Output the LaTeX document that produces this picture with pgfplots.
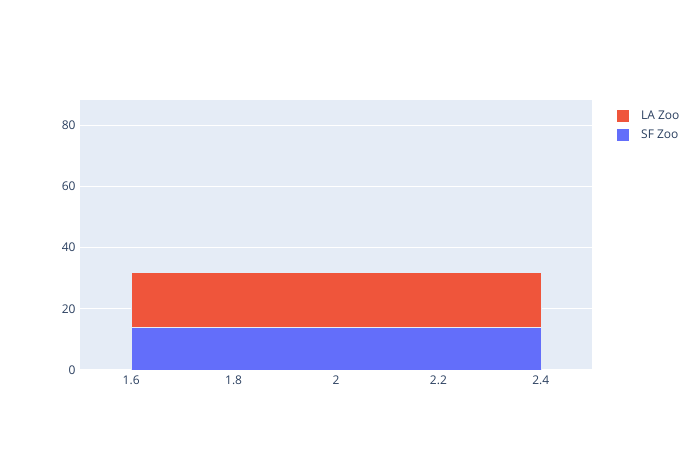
\documentclass[border=0pt]{standalone}
\usepackage{pgfplots}
\pgfplotsset{compat=1.18}
\usepackage{fontspec}
\setmainfont{Open Sans}
\definecolor{plotbg}{HTML}{E5ECF6}
\definecolor{fontc}{HTML}{2A3F5F}
\definecolor{sfzoo}{HTML}{636EFA}
\definecolor{lazoo}{HTML}{EF553B}
\begin{document}
\begin{tikzpicture}[x=1bp,y=1bp]
\useasboundingbox (0,0) rectangle (700,450);
\begin{axis}[
    at={(80bp,80bp)},
    anchor=south west,
    scale only axis,
    width=512bp,
    height=270bp,
    ybar stacked,
    bar width=0.8,
    xmin=1.5, xmax=2.5,
    ymin=0, ymax=88.2,
    xtick={1.6,1.8,2,2.2,2.4},
    ytick={0,20,40,60,80},
    xticklabels={1.6,1.8,2,2.2,2.4},
    axis background/.style={fill=plotbg},
    axis line style={draw=none},
    major tick length=0pt,
    ymajorgrids,
    grid style={white, line width=1bp},
    tick label style={font=\fontsize{12bp}{14bp}\selectfont, text=fontc},
    /pgf/number format/assume math mode=true,
    xticklabel style={yshift=-2bp},
    yticklabel style={xshift=-1bp},
    reverse legend,
    legend style={
        at={(1.043,0.975)}, anchor=north west,
        draw=none, fill=none,
        font=\fontsize{12bp}{14bp}\selectfont, text=fontc,
        row sep=5bp,
    },
    legend image code/.code={\draw[#1, draw=none] (0bp,-6bp) rectangle (12bp,6bp);},
    legend cell align=left,
]
\addplot[fill=sfzoo, draw=plotbg, line width=0.5bp] coordinates {(2,14)};
\addlegendentry{\hspace{10bp}SF Zoo}
\addplot[fill=lazoo, draw=plotbg, line width=0.5bp] coordinates {(2,18)};
\addlegendentry{\hspace{10bp}LA Zoo}
\end{axis}
\end{tikzpicture}
\end{document}
